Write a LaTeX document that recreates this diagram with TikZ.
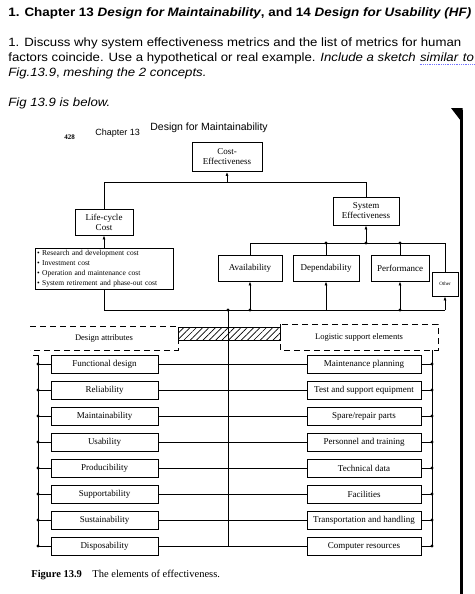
\documentclass[tikz,border=0pt]{standalone}
\usepackage{fontspec}
\usepackage{xcolor}
\setmainfont{Liberation Serif}
\newfontfamily\arialfont[FakeStretch=1.1]{Liberation Sans}
\newfontfamily\chapfont{Liberation Sans}
\usetikzlibrary{arrows.meta,patterns.meta,positioning}

\begin{document}
\begin{tikzpicture}[x=1pt,y=-1pt, line width=0.8pt,
              every node/.style = {inner sep=1pt},
              head/.style = {anchor=west, inner sep=0pt, font=\arialfont\fontsize{12}{14}\selectfont},
              box/.style = {draw, line width=0.8pt, align=center, font=\fontsize{9}{10}\selectfont},
              attr/.style = {box, minimum width=107pt, minimum height=18pt},
              logi/.style = {box, minimum width=114pt, minimum height=18pt},
              dot/.style = {circle, fill, inner sep=0pt, minimum size=3.2pt},
              up/.style = {-{Latex[length=4pt,width=3pt]}},
              dashedge/.style = {dash pattern=on 6pt off 4pt, line width=0.8pt}]
  \useasboundingbox (0,0) rectangle (474,594);
  \node[head, font=\arialfont\bfseries\fontsize{12.2}{14}\selectfont] (title) at (8,13)
    {1. Chapter 13 \textit{Design for Maintainability}, and 14 \textit{Design for Usability (HF)}};
  \node[head] (q1) at (8,43) {1. Discuss why system effectiveness metrics and the list of metrics for human};
  \node[head] (q2) at (8,58) {factors coincide. Use a hypothetical or real example. \textit{Include a sketch}};
  \node[head, anchor=base west] (q2b) at ([xshift=3.4pt]q2.base east) {\textit{similar}};
  \node[head, anchor=base west] (q2c) at ([xshift=3.4pt]q2b.base east) {\textit{to}};
  \draw[blue!55, densely dotted, line width=0.8pt] ([yshift=-3pt]q2b.base west) -- ([yshift=-3pt]q2c.base east);
  \node[head] (q3) at (8,73) {\textit{Fig.13.9}, \textit{meshing the 2 concepts.}};
  \node[head] (q4) at (8,103) {\textit{Fig 13.9 is below.}};

  \node[anchor=west, font=\bfseries\fontsize{7}{8}\selectfont] (pnum) at (63,137) {428};
  \node[anchor=west, font=\chapfont\fontsize{9}{10}\selectfont] (chap) at (94,133) {Chapter 13};
  \node[anchor=west, font=\chapfont\fontsize{10.5}{11}\selectfont] (chtitle) at (149,128) {Design for Maintainability};

  \node[box, minimum width=70pt, minimum height=29pt] (cost) at (227,157) {Cost-\\Effectiveness};
  \node[box, minimum width=58pt, minimum height=26pt] (lcc) at (104,222) {Life-cycle\\Cost};
  \node[box, minimum width=66pt, minimum height=28pt] (sys) at (366,211) {System\\Effectiveness};
  \node[box, align=left, text width=134pt, inner sep=2pt, font=\fontsize{7.5}{10}\selectfont] (costs) at (104,269)
    {\textbullet\ Research and development cost\\
     \textbullet\ Investment cost\\
     \textbullet\ Operation and maintenance cost\\
     \textbullet\ System retirement and phase-out cost};
  \node[box, minimum width=64pt, minimum height=26pt] (avail) at (250,268) {Availability};
  \node[box, minimum width=66pt, minimum height=26pt] (depend) at (326,268) {Dependability};
  \node[box, minimum width=58pt, minimum height=26pt] (perf) at (400,268) {Performance};
  \node[box, minimum width=26pt, minimum height=24pt, font=\fontsize{5}{6}\selectfont] (other) at (445,284) {Other};

  \coordinate (tb) at (0,182);
  \coordinate (ub) at (0,243);
  \coordinate (lb) at (0,310);
  \coordinate (mid) at (228,310);
  \coordinate (lbr) at (38,355);
  \coordinate (rbr) at (432,350);

  \draw (lcc.north) -- (lcc.north |- tb) -- (sys.north |- tb) -- (sys.north);
  \draw[up] (cost.south |- tb) -- (cost.south);
  \draw[up] (costs.north) -- (lcc.south);

  \draw (avail.north) -- (avail.north |- ub) -- (other.north |- ub) -- (other.north);
  \draw (depend.north) -- (depend.north |- ub) node[dot] {};
  \draw (perf.north) -- (perf.north |- ub) node[dot] {};
  \draw[up] (sys.south |- ub) node[dot] {} -- (sys.south);

  \draw (costs.south) -- (costs.south |- lb) -- (other.south |- lb);
  \draw[up] (other.south |- lb) -- (other.south);
  \draw[up] (avail.south |- lb) node[dot] {} -- (avail.south);
  \draw[up] (depend.south |- lb) -- (depend.south);
  \draw[up] (perf.south |- lb) node[dot] {} -- (perf.south);

  \draw[dashedge] (30,326) -- (178,326) -- (178,350) -- (30,350);
  \node[font=\fontsize{8.5}{9}\selectfont] (dalabel) at (104,338) {Design attributes};
  \draw[pattern={Lines[angle=45,distance=4.5pt,line width=0.7pt]}] (178,327) rectangle (280,340);
  \draw[dashedge] (280,324) rectangle (438,350);
  \node[font=\fontsize{8.5}{9}\selectfont] (lslabel) at (359,337) {Logistic support elements};

  \foreach \a/\l [count=\i] in {Functional design/Maintenance planning,
                                Reliability/Test and support equipment,
                                Maintainability/Spare\slash repair parts,
                                Usability/Personnel and training,
                                Producibility/Technical data,
                                Supportability/Facilities,
                                Sustainability/Transportation and handling,
                                Disposability/Computer resources} {
    \node[attr] (da\i) at (104.5,338+26*\i) {\a};
    \node[logi] (ls\i) at (364,338+26*\i) {\l};
    \draw (da\i) -- (ls\i);
    \draw (da\i.west) -- (lbr |- da\i) node[dot] {};
    \draw (ls\i.east) -- (rbr |- ls\i) node[dot] {};
  }
  \draw (lbr) ++(-5,0) -- (lbr) -- (lbr |- da8);
  \draw (rbr) -- (rbr |- ls8);
  \draw (mid) node[dot] {} -- (mid |- da8);

  \node[anchor=west, font=\fontsize{10.5}{11}\selectfont] (caption) at (30,575)
    {\textbf{Figure 13.9}\quad The elements of effectiveness.};

  \draw[line width=3pt] (461,110) -- (461,594);
  \fill (451,108) -- (462.5,108) -- (462.5,123) -- cycle;
\end{tikzpicture}
\end{document}
